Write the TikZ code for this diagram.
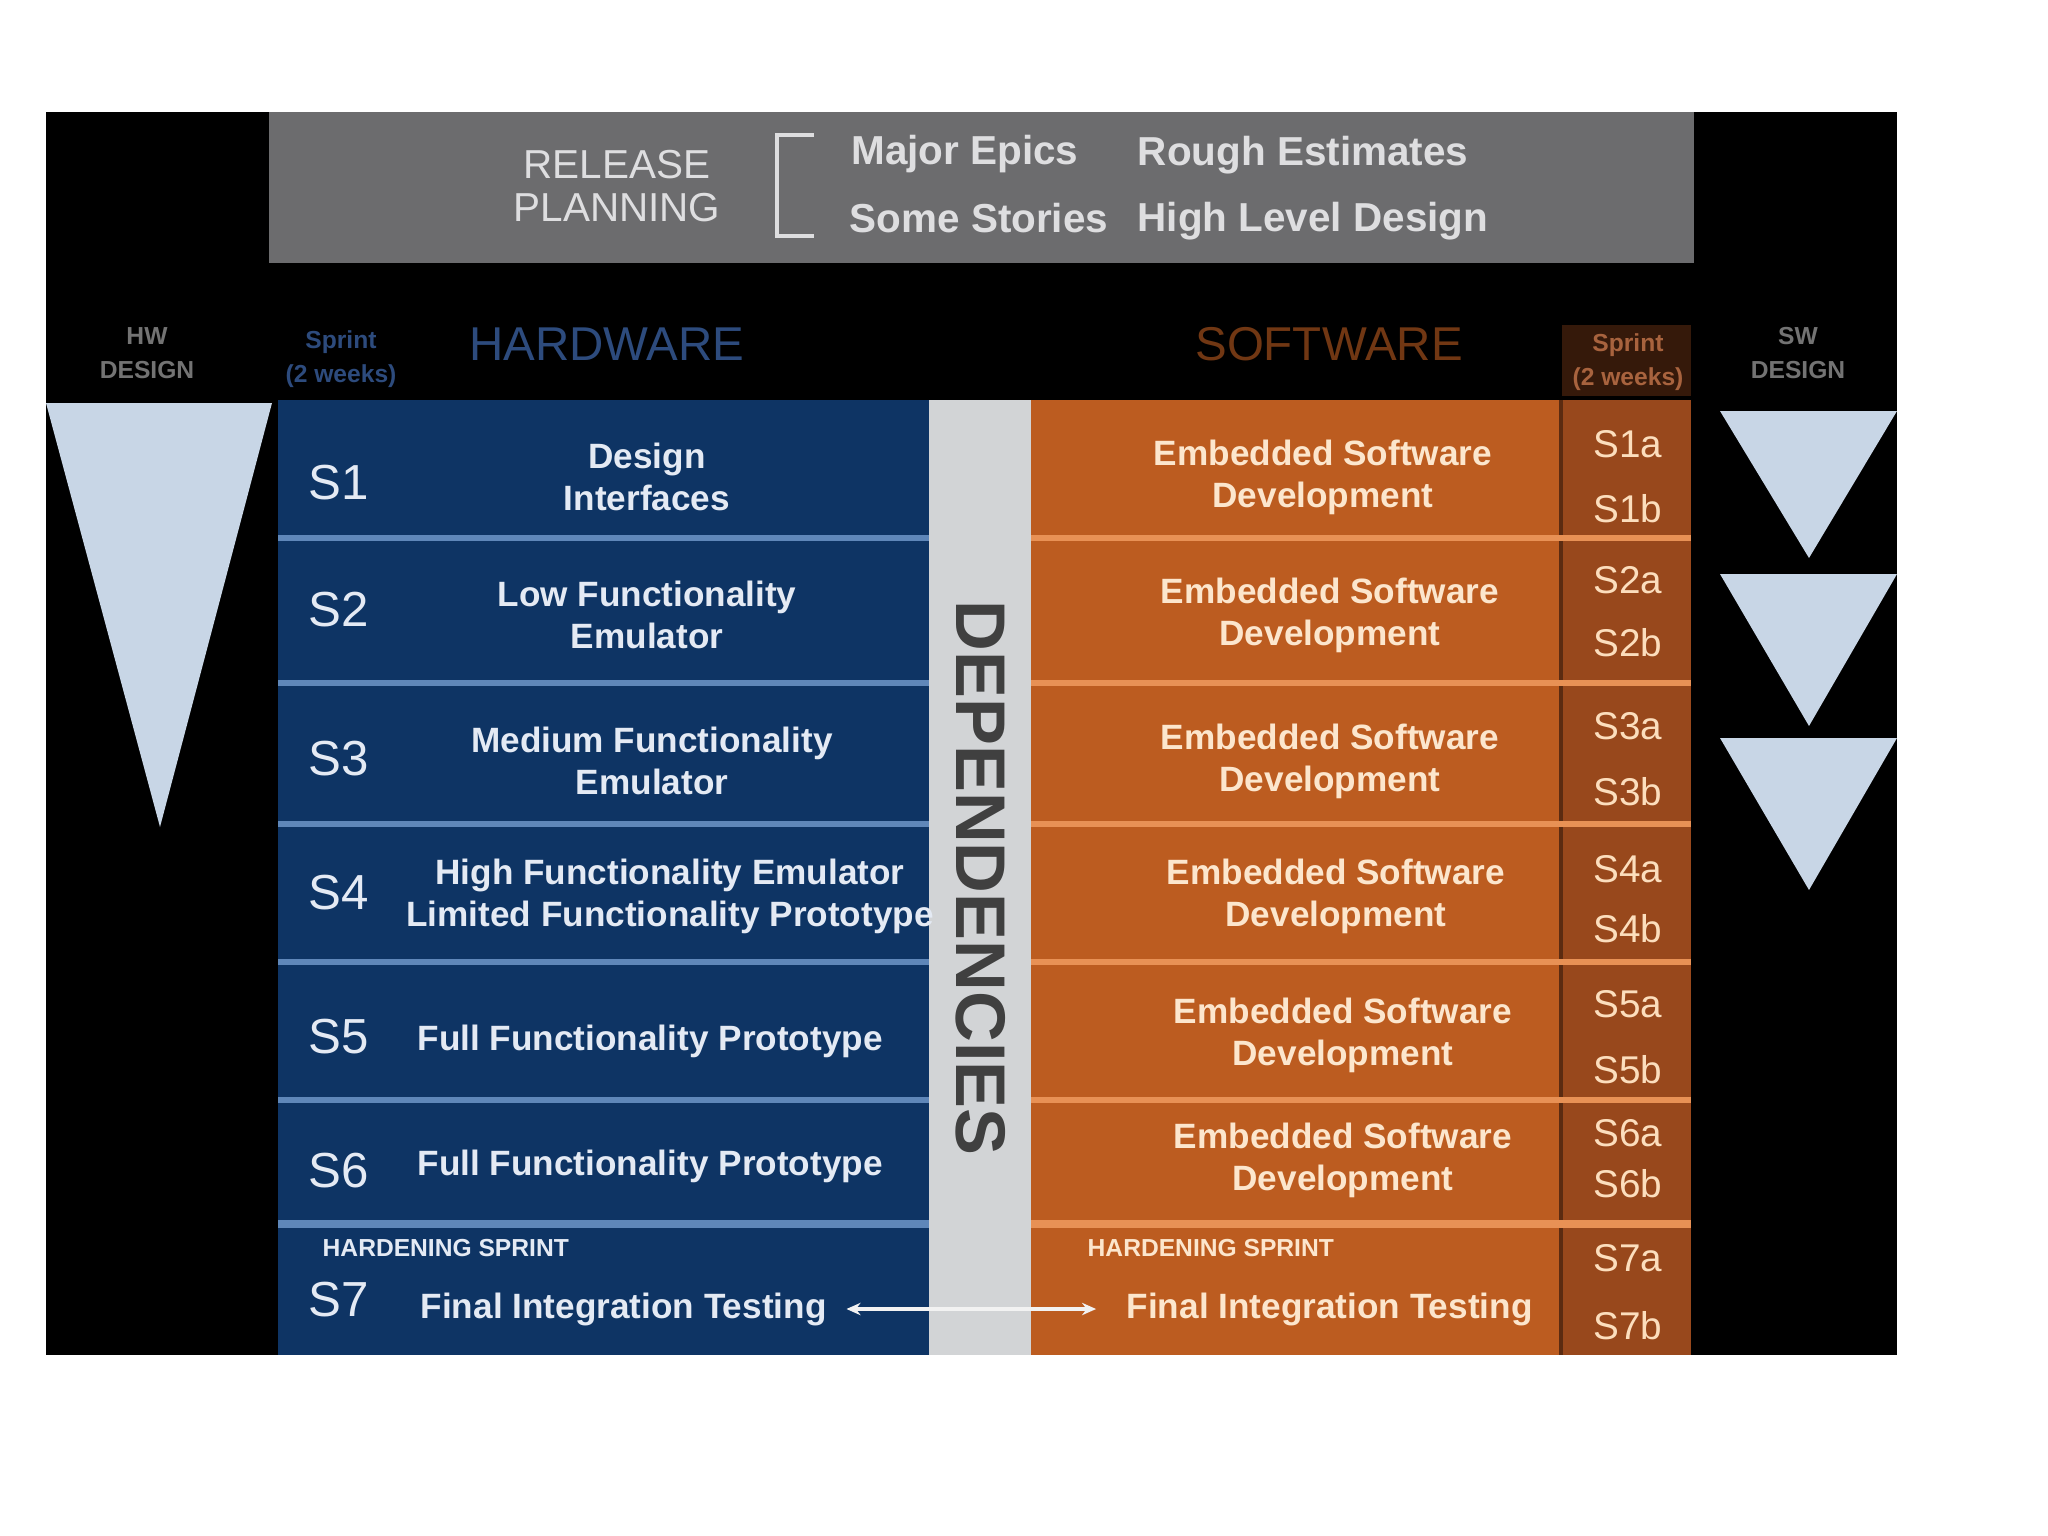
\documentclass[tikz,border=0pt]{standalone}
\usepackage{fontspec}
\setmainfont{Liberation Sans}
\usepackage{tikz}
\usetikzlibrary{positioning,arrows.meta}
\definecolor{hwblue}{RGB}{14,52,100}
\definecolor{hwline}{RGB}{95,135,185}
\definecolor{hwtext}{RGB}{228,234,244}
\definecolor{hwhead}{RGB}{45,75,125}
\definecolor{sworange}{RGB}{188,92,32}
\definecolor{swline}{RGB}{232,145,85}
\definecolor{swtext}{RGB}{252,230,205}
\definecolor{sprintbrown}{RGB}{152,72,28}
\definecolor{depgray}{RGB}{210,212,214}
\definecolor{funnel}{RGB}{200,214,230}
\definecolor{plangray}{RGB}{108,108,110}
\definecolor{plantext}{RGB}{222,222,224}
\tikzset{
  row text/.style={inner sep=0pt,align=center,font=\fontsize{10}{12}\selectfont\bfseries},
  sprint no/.style={inner sep=0pt,text=hwtext,font=\fontsize{14}{16}\selectfont},
  sprint half/.style={inner sep=0pt,text=swtext!92!orange,font=\fontsize{11}{13}\selectfont},
  plan text/.style={inner sep=0pt,text=plantext,font=\fontsize{11.5}{12.2}\selectfont\bfseries},
  small head/.style={inner sep=0pt,align=center,font=\fontsize{7}{9.5}\selectfont\bfseries},
  hardening/.style={inner sep=0pt,font=\fontsize{7}{8}\selectfont\bfseries}
}

\begin{document}
\begin{tikzpicture}[x=0.01cm,y=-0.01cm]
            \useasboundingbox (0,0) rectangle (2048,1536);
            \fill[white] (0,0) rectangle (2048,1536);
            \fill[black] (46,112) rectangle (1897,1355);

            % release planning band
            \fill[plangray] (269,112) rectangle (1694,263);
            \node[plan text, align=center, font=\fontsize{11.5}{12.2}\selectfont] (release) at (617,186) {RELEASE\\PLANNING};
            \draw[plantext, line width=1.1pt] (814,135) -- (777,135) -- (777,236) -- (814,236);
            \node[plan text] (epics) at (965,154) {Major Epics};
            \node[plan text] (estimates) at (1303,155) {Rough Estimates};
            \node[plan text] (stories) at (979,218) {Some Stories};
            \node[plan text] (design) at (1313,221) {High Level Design};

            % column heads
            \node[small head, text=black!55] (hwdesign) at (147,353) {HW\\DESIGN};
            \node[small head, text=black!55] (swdesign) at (1798,353) {SW\\DESIGN};
            \fill[sprintbrown!35!black] (1562,325) rectangle (1691,396);
            \node[small head, text=hwhead] (hwsprint) at (341,359) {Sprint\\(2 weeks)};
            \node[small head, text=sprintbrown!85!white] (swsprint) at (1628,362) {Sprint\\(2 weeks)};
            \node[inner sep=0pt, text=hwhead, font=\fontsize{13.5}{15}\selectfont] (hardware) at (607,344) {HARDWARE};
            \node[inner sep=0pt, text=sworange!60!black, font=\fontsize{13.5}{15}\selectfont] (software) at (1329,344) {SOFTWARE};

            % funnels
            \fill[funnel] (46,403) -- (272,403) -- (160,827) -- cycle;
            \fill[funnel] (1720,411) -- (1897,411) -- (1809,558) -- cycle;
            \fill[funnel] (1720,574) -- (1897,574) -- (1809,726) -- cycle;
            \fill[funnel] (1720,738) -- (1897,738) -- (1809,890) -- cycle;

            % columns
            \fill[hwblue] (278,400) rectangle (929,1355);
            \fill[depgray] (929,400) rectangle (1031,1355);
            \fill[sworange] (1031,400) rectangle (1560,1355);
            \fill[sprintbrown] (1562,400) rectangle (1691,1355);
            \draw[sprintbrown!60!black, line width=1pt] (1561,400) -- (1561,1355);

            % row rules
            \draw[hwline, line width=1.5pt] (278,538) -- (929,538) (278,683) -- (929,683)
              (278,824) -- (929,824) (278,962) -- (929,962) (278,1100) -- (929,1100);
            \draw[hwline, line width=2.5pt] (278,1224) -- (929,1224);
            \draw[swline, line width=1.5pt] (1031,538) -- (1691,538) (1031,683) -- (1691,683)
              (1031,824) -- (1691,824) (1031,962) -- (1691,962) (1031,1100) -- (1691,1100);
            \draw[swline, line width=2.5pt] (1031,1224) -- (1691,1224);

            \node[inner sep=0pt, rotate=-90, text=black!75, font=\fontsize{20}{22}\selectfont\bfseries] (deps) at (981,878) {DEPENDENCIES};

            % hardware rows
            \node[sprint no] (S1) at (339,483) {S1};
            \node[sprint no] (S2) at (339,610) {S2};
            \node[sprint no] (S3) at (339,759) {S3};
            \node[sprint no] (S4) at (339,893) {S4};
            \node[sprint no] (S5) at (339,1037) {S5};
            \node[sprint no] (S6) at (339,1171) {S6};
            \node[sprint no] (S7) at (339,1300) {S7};
            \node[row text, text=hwtext] (hw1) at (647,477) {Design\\Interfaces};
            \node[row text, text=hwtext] (hw2) at (647,615) {Low Functionality\\Emulator};
            \node[row text, text=hwtext] (hw3) at (652,761) {Medium Functionality\\Emulator};
            \node[row text, text=hwtext] (hw4) at (670,896) {High Functionality Emulator\\Limited Functionality Prototype};
            \node[row text, text=hwtext, anchor=west] (hw5) at (417,1041) {Full Functionality Prototype};
            \node[row text, text=hwtext, anchor=west] (hw6) at (417,1166) {Full Functionality Prototype};
            \node[hardening, text=hwtext, anchor=west] (hwhard) at (322,1248) {HARDENING SPRINT};
            \node[row text, text=hwtext, anchor=west] (hw7) at (420,1309) {Final Integration Testing};

            % software rows
            \node[row text, text=swtext] (sw1) at (1323,477) {Embedded Software\\Development};
            \node[row text, text=swtext] (sw2) at (1330,615) {Embedded Software\\Development};
            \node[row text, text=swtext] (sw3) at (1330,761) {Embedded Software\\Development};
            \node[row text, text=swtext] (sw4) at (1336,896) {Embedded Software\\Development};
            \node[row text, text=swtext] (sw5) at (1343,1035) {Embedded Software\\Development};
            \node[row text, text=swtext] (sw6) at (1343,1160) {Embedded Software\\Development};
            \node[hardening, text=swtext, anchor=west] (swhard) at (1087,1248) {HARDENING SPRINT};
            \node[row text, text=swtext, anchor=west] (sw7) at (1126,1309) {Final Integration Testing};

            \node[sprint half] (S1a) at (1628,444) {S1a};
            \node[sprint half] (S1b) at (1628,509) {S1b};
            \node[sprint half] (S2a) at (1628,580) {S2a};
            \node[sprint half] (S2b) at (1628,643) {S2b};
            \node[sprint half] (S3a) at (1628,726) {S3a};
            \node[sprint half] (S3b) at (1628,792) {S3b};
            \node[sprint half] (S4a) at (1628,869) {S4a};
            \node[sprint half] (S4b) at (1628,929) {S4b};
            \node[sprint half] (S5a) at (1628,1004) {S5a};
            \node[sprint half] (S5b) at (1628,1070) {S5b};
            \node[sprint half] (S6a) at (1628,1133) {S6a};
            \node[sprint half] (S6b) at (1628,1184) {S6b};
            \node[sprint half] (S7a) at (1628,1258) {S7a};
            \node[sprint half] (S7b) at (1628,1326) {S7b};

            \draw[{Stealth[length=4pt,width=3.5pt]}-{Stealth[length=4pt,width=3.5pt]}, white!90!gray, line width=0.9pt,
              shorten <=5.5pt, shorten >=8.5pt] (hw7) -- (sw7);
        \end{tikzpicture}
\end{document}
